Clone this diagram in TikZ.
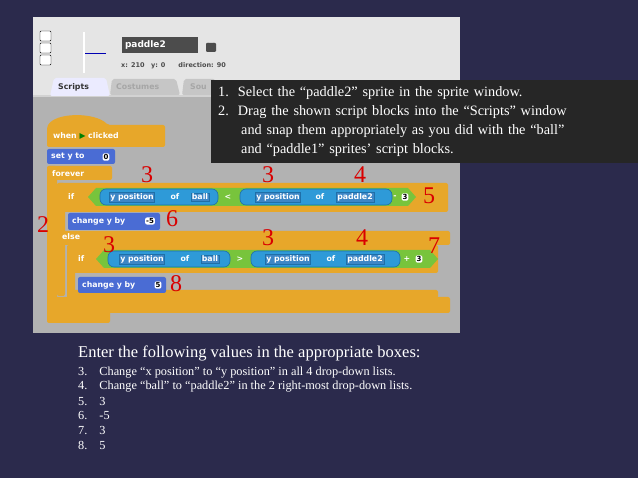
\documentclass[tikz,border=0pt]{standalone}
\usepackage{fontspec}
\setmainfont{Liberation Serif}
\newfontfamily\blk{DejaVu Sans}
\begin{document}
\begin{tikzpicture}[x=1pt,y=-1pt,
  ctl/.style={fill=scorange,rounded corners=2pt},
  mot/.style={fill=scblue,rounded corners=2pt},
  bt/.style={font=\blk\bfseries\fontsize{7.8}{8}\selectfont,text=white,inner sep=0pt,anchor=west},
  num/.style={font=\fontsize{24}{24}\selectfont,text=red!85!black,inner sep=0pt},
  sens/.style={fill=sensblue,draw=sensdark,rounded corners=6pt,line width=0.6pt},
  dd/.style={fill=ddblue,draw=sensdark,line width=0.4pt},
  val/.style={fill=white,rounded corners=2pt,inner sep=1pt,font=\blk\bfseries\fontsize{7}{7}\selectfont},
  item/.style={font=\fontsize{12.3}{13}\selectfont,text=white,anchor=west,inner sep=0pt}]
\definecolor{bg}{HTML}{2B2A4C}
\definecolor{scorange}{HTML}{E7A72A}
\definecolor{scblue}{HTML}{4A6CD4}
\definecolor{sensblue}{HTML}{2E9AD8}
\definecolor{sensdark}{HTML}{1F6FA8}
\definecolor{ddblue}{HTML}{3D86C6}
\definecolor{opgreen}{HTML}{78C43C}
\fill[bg] (0,0) rectangle (638,478);
\useasboundingbox (0,0) rectangle (638,478);
% screenshot
\fill[gray!35] (33,17) rectangle (460,333);
\fill[gray!20] (33,17) rectangle (460,95);
\fill[gray!60] (33,97) rectangle (460,333);
\foreach \y in {36,48,60}{\draw[black,fill=white,rounded corners=1pt] (40,\y-5) rectangle (51,\y+5);}
\draw[white,line width=2pt] (84,32) -- (84,73);
\draw[blue!70!black,line width=0.8pt] (85,53) -- (106,53);
\node[fill=gray!60!black,text=white,font=\blk\bfseries\fontsize{9}{9}\selectfont,minimum width=76pt,minimum height=16pt,text width=70pt,inner sep=2pt] (nm) at (160,45) {paddle2};
\fill[black!70,rounded corners=1pt] (206,43) rectangle (216,52);
\draw[black!70,line width=1.2pt] (208,43) arc (180:0:3);
\node[font=\blk\bfseries\fontsize{6.5}{7}\selectfont,anchor=west,inner sep=0pt,text=black!70] (xy) at (121,66) {x: 210\quad y: 0\qquad direction: 90};
\fill[gray!45,rounded corners=2pt] (110,95) -- (112,79) -- (176,79) -- (180,95) -- cycle;
\fill[gray!45,rounded corners=2pt] (182,95) -- (184,79) -- (215,79) -- (215,95) -- cycle;
\fill[blue!8,rounded corners=2pt] (50,96) -- (54,78) -- (106,78) -- (110,96) -- cycle;
\node[bt,text=black!80] (t1) at (58,87) {Scripts};
\node[bt,text=gray!70] (t2) at (116,87) {Costumes};
\node[bt,text=gray!70] (t3) at (190,87) {Sou};
% scripts
\fill[ctl] (47,127) .. controls (55,112) and (95,112) .. (108,125) -- (165,125) -- (165,147) -- (47,147) -- cycle;
\node[bt] (w) at (53,136) {when \textcolor{green!50!black}{▶} clicked};
\fill[mot] (47,149) rectangle (115,164);
\node[bt] (sy) at (51,157) {set y to};
\node[val] (v0) at (106,157) {0};
\fill[ctl] (47,166) rectangle (112,180);
\fill[ctl] (47,166) rectangle (57,322);
\fill[ctl] (47,297) rectangle (450,313);
\fill[ctl] (47,310) rectangle (110,323);
\node[bt] (fv) at (52,174) {forever};
% if-else
\fill[ctl] (57,183) rectangle (448,212);
\fill[ctl] (57,183) rectangle (65,296);
\fill[ctl] (57,231) rectangle (450,245);
\node[bt] (if1) at (68,197) {if};
\node[bt] (el) at (62,237) {else};
\fill[opgreen] (88,197) -- (96,188) -- (408,188) -- (416,197) -- (408,206) -- (96,206) -- cycle;
\fill[sens] (100,189) rectangle (218,205);
\node[dd,bt,anchor=center,inner sep=1pt] (a1) at (132,197) {y position};
\node[bt,anchor=center] (o1) at (175,197) {of};
\node[dd,bt,anchor=center,inner sep=1pt] (b1) at (200,197) {ball};
\node[bt,anchor=center] (lt) at (228,197) {<};
\fill[sens] (240,189) rectangle (392,205);
\node[dd,bt,anchor=center,inner sep=1pt] (a2) at (278,197) {y position};
\node[bt,anchor=center] (o2) at (320,197) {of};
\node[dd,bt,anchor=center,inner sep=1pt] (b2) at (355,197) {paddle2};
\node[bt,anchor=center] (mi) at (395,197) {-};
\node[val] (v3a) at (405,197) {3};
\fill[mot] (68,213) rectangle (160,230);
\node[bt] (c1) at (72,221) {change y by};
\node[val] (v5a) at (150,221) {-5};
% inner if
\fill[ctl] (67,245) rectangle (438,273);
\fill[ctl] (67,245) rectangle (75,298);
\fill[ctl] (67,290) rectangle (438,298);
\node[bt] (if2) at (78,259) {if};
\fill[opgreen] (96,259) -- (104,250) -- (430,250) -- (438,259) -- (430,268) -- (104,268) -- cycle;
\fill[sens] (108,251) rectangle (230,267);
\node[dd,bt,anchor=center,inner sep=1pt] (a3) at (142,259) {y position};
\node[bt,anchor=center] (o3) at (185,259) {of};
\node[dd,bt,anchor=center,inner sep=1pt] (b3) at (210,259) {ball};
\node[bt,anchor=center] (gt) at (240,259) {>};
\fill[sens] (251,251) rectangle (400,267);
\node[dd,bt,anchor=center,inner sep=1pt] (a4) at (288,259) {y position};
\node[bt,anchor=center] (o4) at (331,259) {of};
\node[dd,bt,anchor=center,inner sep=1pt] (b4) at (365,259) {paddle2};
\node[bt,anchor=center] (pl) at (407,259) {+};
\node[val] (v3b) at (419,259) {3};
\fill[mot] (78,277) rectangle (166,293);
\node[bt] (c2) at (82,285) {change y by};
\node[val] (v5b) at (158,285) {5};
% red numbers
\node[num] (n1) at (147,175) {3};
\node[num] (n2) at (268,175) {3};
\node[num] (n3) at (360,175) {4};
\node[num] (n4) at (429,196) {5};
\node[num] (n5) at (172,219) {6};
\node[num] (n6) at (43,225) {2};
\node[num] (n7) at (109,245) {3};
\node[num] (n8) at (268,238) {3};
\node[num] (n9) at (362,238) {4};
\node[num] (n10) at (434,246) {7};
\node[num] (n11) at (176,284) {8};
% instruction box
\fill[black!85] (211,80) rectangle (638,163);
\node[item,font=\fontsize{14.3}{19}\selectfont,text width=420pt,anchor=north west] (ins) at (218,86) {%
1.\hspace{9pt}Select the “paddle2” sprite in the sprite window.\\
2.\hspace{9pt}Drag the shown script blocks into the “Scripts” window\\
\hspace*{23pt}and snap them appropriately as you did with the “ball”\\
\hspace*{23pt}and “paddle1” sprites’ script blocks.};
% lower text
\node[item,font=\fontsize{16.5}{17}\selectfont] (en) at (78,353) {Enter the following values in the appropriate boxes:};
\node[item] (i3) at (78,373) {3.\hspace{12pt}Change “x position” to “y position” in all 4 drop-down lists.};
\node[item] (i4) at (78,387) {4.\hspace{12pt}Change “ball” to “paddle2” in the 2 right-most drop-down lists.};
\node[item] (i5) at (78,402) {5.\hspace{12pt}3};
\node[item] (i6) at (78,416) {6.\hspace{12pt}-5};
\node[item] (i7) at (78,431) {7.\hspace{12pt}3};
\node[item] (i8) at (78,445) {8.\hspace{12pt}5};
\end{tikzpicture}
\end{document}
